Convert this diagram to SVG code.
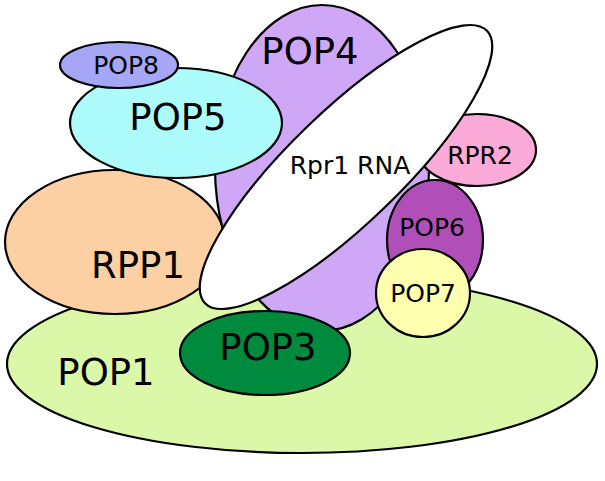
<svg xmlns="http://www.w3.org/2000/svg" width="605" height="481" viewBox="0 0 605 481">
<style>
ellipse{stroke:#000;stroke-width:2.2}
text{font-family:"DejaVu Sans",sans-serif;text-anchor:middle;fill:#000}
.l{font-size:37px}.s{font-size:25px}
</style>
<rect width="605" height="481" fill="#fff"/>
<g id="POP1"><ellipse cx="302" cy="364" rx="295" ry="89" fill="#dbf8a9"/><text class="l" x="106" y="385">POP1</text></g>
<g id="RPP1"><ellipse cx="115" cy="242" rx="110" ry="72" fill="#fdd0a4"/><text class="l" x="138" y="278">RPP1</text></g>
<g id="POP4"><ellipse cx="322" cy="168" rx="107" ry="163" fill="#cfa7f7"/><text class="l" x="310" y="64">POP4</text></g>
<g id="POP5"><ellipse cx="176" cy="123" rx="106" ry="55" fill="#adfbfb"/><text class="l" x="178" y="130">POP5</text></g>
<g id="POP8"><ellipse cx="119" cy="65" rx="59" ry="23" fill="#a6a6f7"/><text class="s" x="126" y="74">POP8</text></g>
<g id="POP6"><ellipse cx="435" cy="240" rx="48" ry="60" fill="#b04fb8"/><text class="s" x="432" y="236">POP6</text></g>
<g id="RPR2"><ellipse cx="477" cy="150" rx="59" ry="36" fill="#fcaad8"/><text class="s" x="480" y="164">RPR2</text></g>
<g id="RNA"><ellipse cx="346" cy="167" rx="196" ry="56" transform="rotate(-44 346 167)" fill="#fff"/><text class="s" x="350" y="174">Rpr1 RNA</text></g>
<g id="POP3"><ellipse cx="265" cy="353" rx="85" ry="42" fill="#008a3e"/><text class="l" x="268" y="360">POP3</text></g>
<g id="POP7"><ellipse cx="423" cy="293" rx="47" ry="44" fill="#ffffb0"/><text class="s" x="423" y="302">POP7</text></g>
</svg>
